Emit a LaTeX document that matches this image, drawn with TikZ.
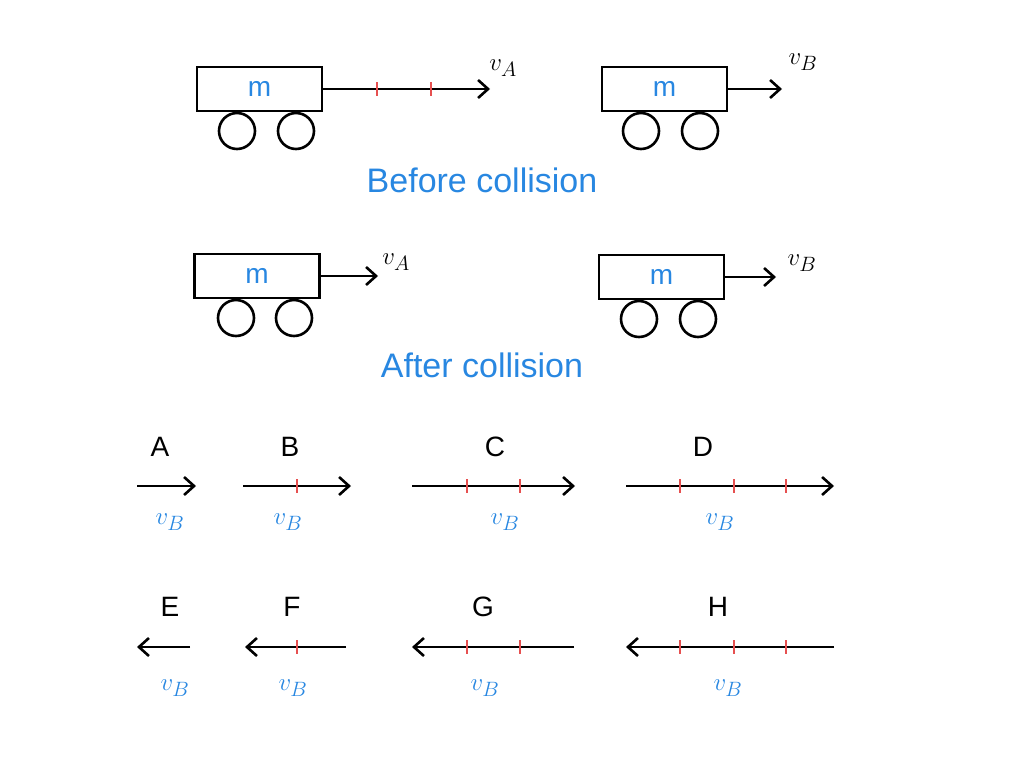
\documentclass[tikz,border=0pt]{standalone}
\usepackage{fontspec}
\setmainfont{Liberation Sans}
\usetikzlibrary{arrows.meta}
\definecolor{hblue}{RGB}{40,135,225}
\definecolor{hred}{RGB}{230,80,80}
\tikzset{
  cart/.style={draw=black,line width=2.6pt,minimum width=125pt,minimum height=44pt,inner sep=0pt,font=\fontsize{28}{28}\selectfont,text=hblue},
  wheel/.style={draw=black,line width=2.6pt,circle,minimum size=36pt,inner sep=0pt},
  vec/.style={line width=2.8pt,-{Straight Barb[length=10pt,width=18pt,line width=2.6pt]}},
  tick/.style={draw=hred,line width=2.6pt},
  lbl/.style={font=\fontsize{28}{28}\selectfont},
  vlbl/.style={font=\fontsize{28}{28}\selectfont,text=hblue},
  title/.style={font=\fontsize{34}{34}\selectfont,text=hblue}
}
\newcommand{\tk}[2]{\draw[tick] (#1,#2-7) -- (#1,#2+7);}
\begin{document}
\begin{tikzpicture}[x=1pt,y=-1pt]
\useasboundingbox (0,0) rectangle (1024,768);
% cart 1
\node[cart] (c1) at (259.5,89) {m};
\node[wheel] (w1a) at (237,131) {}; \node[wheel] (w1b) at (296,131) {};
\coordinate (e1) at (490,89);
\draw[vec] (c1.east) -- (e1);
\tk{377}{89}\tk{431}{89}
\node[lbl] (l1) at (503,68) {$v_A$};
% cart 2
\node[cart] (c2) at (664.5,89) {m};
\node[wheel] (w2a) at (641,131) {}; \node[wheel] (w2b) at (700,131) {};
\coordinate (e2) at (782,89);
\draw[vec] (c2.east) -- (e2);
\node[lbl] (l2) at (803,62) {$v_B$};
\node[title] (t1) at (482,180) {Before collision};
% cart 3
\node[cart] (c3) at (257,276) {m};
\node[wheel] (w3a) at (236,318) {}; \node[wheel] (w3b) at (294,318) {};
\coordinate (e3) at (378,276);
\draw[vec] (c3.east) -- (e3);
\node[lbl] (l3) at (396,262) {$v_A$};
% cart 4
\node[cart] (c4) at (661.5,277) {m};
\node[wheel] (w4a) at (639,319) {}; \node[wheel] (w4b) at (698,319) {};
\coordinate (e4) at (776,277);
\draw[vec] (c4.east) -- (e4);
\node[lbl] (l4) at (802,263) {$v_B$};
\node[title] (t2) at (482,365) {After collision};
% row 1
\foreach \n/\a/\b/\lx/\vx in {A/137/196/160/170, B/243/351/290/288, C/412/575/495/505, D/626/834/703/720}{
  \coordinate (s\n) at (\a,486); \coordinate (f\n) at (\b,486);
  \draw[vec] (s\n) -- (f\n);
  \node[lbl] (L\n) at (\lx,447) {\n};
  \node[vlbl] (V\n) at (\vx,522) {$v_B$};
}
\tk{297}{486}\tk{467}{486}\tk{520}{486}\tk{680}{486}\tk{734}{486}\tk{786}{486}
% row 2
\foreach \n/\a/\b/\lx/\vx in {E/190/137/170/175, F/346/245/292/293, G/574/412/483/485, H/834/626/718/728}{
  \coordinate (s\n) at (\a,647); \coordinate (f\n) at (\b,647);
  \draw[vec] (s\n) -- (f\n);
  \node[lbl] (L\n) at (\lx,607) {\n};
  \node[vlbl] (V\n) at (\vx,688) {$v_B$};
}
\tk{297}{647}\tk{467}{647}\tk{520}{647}\tk{680}{647}\tk{734}{647}\tk{786}{647}
\end{tikzpicture}
\end{document}
